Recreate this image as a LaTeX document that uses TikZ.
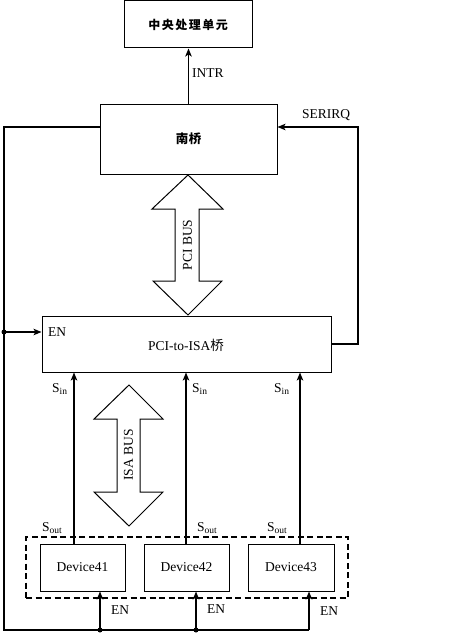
\documentclass[tikz,border=0pt]{standalone}
\usepackage{fontspec}
\setmainfont{Liberation Serif}
\newfontfamily\cjk{Noto Sans CJK SC}
\usetikzlibrary{arrows.meta,calc}
\tikzset{
  box/.style={draw, line width=1pt, inner sep=0pt},
  conn/.style={line width=1.3pt},
  arr/.style={conn, -{Stealth[length=8pt,width=6.5pt,inset=2pt]}},
  lbl/.style={inner sep=0pt, font=\fontsize{13.5}{15}\selectfont},
  bus/.style={draw, line width=1pt, fill=white},
  dot/.style={circle, fill=black, inner sep=0pt, minimum size=5pt},
}
\newcommand{\subs}[1]{\raisebox{-0.35ex}{\fontsize{9.5}{10}\selectfont #1}}
\begin{document}
\begin{tikzpicture}[x=1pt,y=-1pt]
\useasboundingbox (0,0) rectangle (474,634);
% main boxes
\node[box, minimum width=128pt, minimum height=47pt] (cpu) at (188,24.5)
  {\cjk\bfseries\fontsize{12}{14}\selectfont 中\kern1.5pt央\kern1.5pt处\kern1.5pt理\kern1.5pt单\kern1.5pt元};
\node[box, minimum width=177pt, minimum height=70pt] (sb) at (188.5,139)
  {\cjk\bfseries\fontsize{12.5}{14}\selectfont 南\kern0.5pt桥};
\node[box, minimum width=289pt, minimum height=56pt] (pci) at (186.5,344) {};
\node[lbl] (pcitext) at (186,345) {PCI-to-ISA{\cjk 桥}};
\node[lbl, anchor=west] (pcien) at (48,332) {EN};
% devices
\node[draw, dash pattern=on 6pt off 3.5pt, line width=1.1pt, minimum width=322pt, minimum height=61pt] (grp) at (187,567.5) {};
\node[box, minimum width=85pt, minimum height=47pt, font=\fontsize{13.5}{15}\selectfont] (d1) at (82.5,567.5) {Device41};
\node[box, minimum width=85pt, minimum height=47pt, font=\fontsize{13.5}{15}\selectfont] (d2) at (186.5,567.5) {Device42};
\node[box, minimum width=86pt, minimum height=47pt, font=\fontsize{13.5}{15}\selectfont] (d3) at (291,567.5) {Device43};
% helper coordinates
\coordinate (jl) at (4,332);
\coordinate (ll) at (4,630);
\coordinate (b1) at (100,630);
\coordinate (b2) at (196,630);
\coordinate (b3) at (309,630);
\coordinate (sr) at (358,0);
\coordinate (s1) at (74,0);
\coordinate (s2) at (186,0);
\coordinate (s3) at (300,0);
\coordinate (sbW) at ([yshift=12pt]sb.west);
\coordinate (sbE) at ([yshift=12pt]sb.east);
% connectors
\draw[arr] (sb.north) -- (sb.north |- cpu.south);
\draw[conn] (sbW) -- (sbW -| ll) -- (ll) -- (b3);
\draw[arr] (pci.east) -- (pci.east -| sr) -- (sr |- sbE) -- (sbE);
\draw[arr] (jl) -- (jl -| pci.west);
\draw[arr] (s1 |- d1.north) -- (s1 |- pci.south);
\draw[arr] (s2 |- d2.north) -- (s2 |- pci.south);
\draw[arr] (s3 |- d3.north) -- (s3 |- pci.south);
\draw[arr] (b1) -- (b1 |- d1.south);
\draw[arr] (b2) -- (b2 |- d2.south);
\draw[arr] (b3) -- (b3 |- d3.south);
\node[dot] (dj) at (jl) {};
\node[dot] (db1) at (b1) {};
\node[dot] (db2) at (b2) {};
% bus arrows
\draw[bus] (188,175) -- (223,209) -- (199,209) -- (199,281) -- (222,281) -- (188,315)
  -- (153,281) -- (175,281) -- (175,209) -- (152,209) -- cycle;
\node[lbl, rotate=90] (pcibus) at (187.5,245) {PCI BUS};
\draw[bus] (129,385) -- (163,419) -- (140,419) -- (140,492) -- (163,492) -- (129,526)
  -- (94,492) -- (117,492) -- (117,419) -- (94,419) -- cycle;
\node[lbl, rotate=90] (isabus) at (128.5,455) {ISA BUS};
% labels
\node[lbl, anchor=west] (intr) at (192,73) {INTR};
\node[lbl, anchor=west] (serirq) at (302,115) {SERIRQ};
\node[lbl, anchor=west] (si1) at (52,389) {S\subs{in}};
\node[lbl, anchor=west] (si2) at (192,389) {S\subs{in}};
\node[lbl, anchor=west] (si3) at (274,389) {S\subs{in}};
\node[lbl, anchor=west] (so1) at (42,528) {S\subs{out}};
\node[lbl, anchor=west] (so2) at (197,528) {S\subs{out}};
\node[lbl, anchor=west] (so3) at (267,528) {S\subs{out}};
\node[lbl, anchor=west] (en1) at (111,610) {EN};
\node[lbl, anchor=west] (en2) at (207,609) {EN};
\node[lbl, anchor=west] (en3) at (320,611) {EN};
\end{tikzpicture}
\end{document}
